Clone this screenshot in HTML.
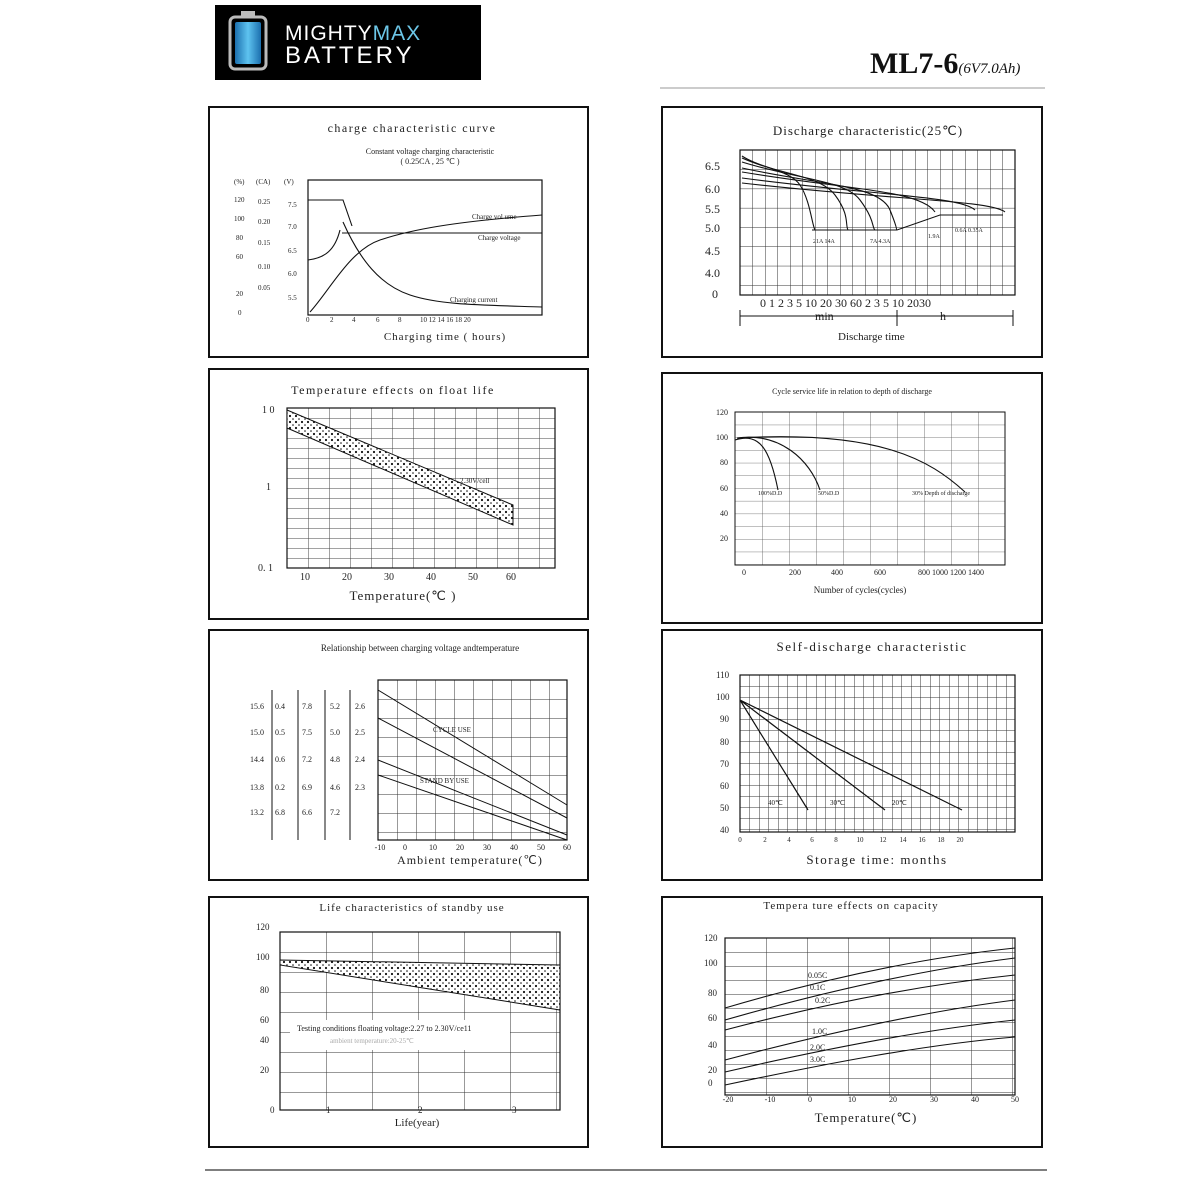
<!DOCTYPE html>
<html><head><meta charset="utf-8"><style>
html,body{margin:0;padding:0;background:#fff;}
svg{display:block;}
text{font-family:"Liberation Serif",serif;fill:#222;}
</style></head><body>
<svg width="1200" height="1200" viewBox="0 0 1200 1200" xmlns="http://www.w3.org/2000/svg">
<defs>
<pattern id="g2" x="740" y="150" width="12.5" height="19.3" patternUnits="userSpaceOnUse"><path d="M0 0V19.3M0 0H12.5" stroke="#333" stroke-width="1" fill="none"/></pattern>
<pattern id="g3" x="287" y="408" width="21" height="10" patternUnits="userSpaceOnUse"><path d="M0 0V10M0 0H21" stroke="#444" stroke-width="1" fill="none"/></pattern>
<pattern id="g4" x="735" y="412" width="27" height="12.7" patternUnits="userSpaceOnUse"><path d="M0 0V12.7M0 0H27" stroke="#555" stroke-width="0.8" fill="none"/></pattern>
<pattern id="g5" x="378" y="680" width="19" height="19" patternUnits="userSpaceOnUse"><path d="M0 0V19M0 0H19" stroke="#333" stroke-width="1" fill="none"/></pattern>
<pattern id="g6" x="740" y="675" width="9.5" height="11" patternUnits="userSpaceOnUse"><path d="M0 0V11M0 0H9.5" stroke="#333" stroke-width="1" fill="none"/></pattern>
<pattern id="g7" x="280" y="932" width="46" height="20" patternUnits="userSpaceOnUse"><path d="M0 0V20M0 0H46" stroke="#333" stroke-width="1" fill="none"/></pattern>
<pattern id="g8" x="725" y="938" width="41" height="14" patternUnits="userSpaceOnUse"><path d="M0 0V14M0 0H41" stroke="#333" stroke-width="1" fill="none"/></pattern>
<pattern id="dots" width="6" height="6" patternUnits="userSpaceOnUse"><rect width="6" height="6" fill="#fff"/><circle cx="2" cy="2" r="1.1" fill="#111"/><circle cx="5" cy="5" r="0.8" fill="#111"/></pattern>
<linearGradient id="bat" x1="0" x2="1"><stop offset="0" stop-color="#1b6fae"/><stop offset="0.5" stop-color="#5ec3f0"/><stop offset="1" stop-color="#1b6fae"/></linearGradient>
</defs>

<rect x="215" y="5" width="266" height="75" fill="#000"/>
<rect x="230" y="17" width="36" height="52" rx="5" fill="none" stroke="#bbb" stroke-width="3"/>
<rect x="241" y="11" width="14" height="6" fill="#bbb"/>
<rect x="235" y="22" width="26" height="42" rx="2" fill="url(#bat)"/>
<text x="285" y="40" style="fill:#fff;font-family:'Liberation Sans',sans-serif;font-size:21px;letter-spacing:1px">MIGHTY<tspan style="fill:#6cc7e8">MAX</tspan></text>
<text x="285" y="63" style="fill:#fff;font-family:'Liberation Sans',sans-serif;font-size:24px;letter-spacing:3px">BATTERY</text>
<text x="870" y="73" style="font-size:30px;font-weight:bold;fill:#111">ML7-6<tspan style="font-size:15px;font-style:italic;font-weight:normal">(6V7.0Ah)</tspan></text>
<line x1="660" y1="88" x2="1045" y2="88" stroke="#bbb" stroke-width="1.5"/>
<line x1="205" y1="1170" x2="1047" y2="1170" stroke="#555" stroke-width="1.5"/>

<g fill="none" stroke="#111" stroke-width="2">
<rect x="209" y="107" width="379" height="250"/>
<rect x="662" y="107" width="380" height="250"/>
<rect x="209" y="369" width="379" height="250"/>
<rect x="662" y="373" width="380" height="250"/>
<rect x="209" y="630" width="379" height="250"/>
<rect x="662" y="630" width="380" height="250"/>
<rect x="209" y="897" width="379" height="250"/>
<rect x="662" y="897" width="380" height="250"/>
</g>

<text x="412" y="132" text-anchor="middle" style="font-size:12px;letter-spacing:1.5px">charge characteristic curve</text>
<text x="430" y="154" text-anchor="middle" style="font-size:8px">Constant voltage charging characteristic</text>
<text x="430" y="164" text-anchor="middle" style="font-size:8px">( 0.25CA , 25 ℃ )</text>
<rect x="308" y="180" width="234" height="135" fill="none" stroke="#111" stroke-width="1.2"/>
<g style="font-size:7px">
<text x="234" y="184">(%)</text><text x="256" y="184">(CA)</text><text x="284" y="184">(V)</text>
<text x="234" y="202">120</text><text x="234" y="221">100</text><text x="236" y="240">80</text><text x="236" y="259">60</text><text x="236" y="296">20</text><text x="238" y="315">0</text>
<text x="258" y="204">0.25</text><text x="258" y="224">0.20</text><text x="258" y="245">0.15</text><text x="258" y="269">0.10</text><text x="258" y="290">0.05</text>
<text x="288" y="207">7.5</text><text x="288" y="229">7.0</text><text x="288" y="253">6.5</text><text x="288" y="276">6.0</text><text x="288" y="300">5.5</text>
<text x="306" y="322">0</text><text x="330" y="322">2</text><text x="352" y="322">4</text><text x="376" y="322">6</text><text x="398" y="322">8</text><text x="420" y="322">10 12 14 16 18 20</text>
<text x="472" y="219">Charge vol ume</text><text x="478" y="240">Charge voltage</text><text x="450" y="302">Charging current</text>
</g>
<g fill="none" stroke="#111" stroke-width="1.1">
<path d="M308 200H343L352 226"/>
<path d="M308 260C325 258 335 250 340 230"/>
<path d="M342 233H542"/>
<path d="M310 312C330 290 350 250 380 240S450 222 542 215"/>
<path d="M343 222C360 260 380 285 410 295S480 305 542 307"/>
</g>
<text x="445" y="340" text-anchor="middle" style="font-size:11px;letter-spacing:1px">Charging time ( hours)</text>

<text x="868" y="135" text-anchor="middle" style="font-size:13px;letter-spacing:1px">Discharge characteristic(25℃)</text>
<rect x="740" y="150" width="275" height="145" fill="url(#g2)" stroke="#111" stroke-width="1.2"/>
<g style="font-size:12px">
<text x="705" y="170">6.5</text><text x="705" y="193">6.0</text><text x="705" y="213">5.5</text><text x="705" y="232">5.0</text><text x="705" y="255">4.5</text><text x="705" y="277">4.0</text><text x="712" y="298">0</text>
<text x="760" y="307">0 1 2 3 5 10 20 30 60 2 3 5 10 2030</text>
<text x="815" y="320">min</text><text x="940" y="320">h</text>
<text x="838" y="340" style="font-size:11px">Discharge time</text>
</g>
<g style="font-size:6px"><text x="813" y="243">21A 14A</text><text x="870" y="243">7A 4.3A</text><text x="928" y="238">1.9A</text><text x="955" y="232">0.6A 0.35A</text></g>
<path d="M740 316H1013M740 310V326M897 310V326M1013 310V326" stroke="#111" fill="none"/>
<g fill="none" stroke="#111" stroke-width="1.1">
<path d="M742 156C760 168 790 170 800 185S812 225 815 230"/>
<path d="M742 158C780 175 820 175 835 195S845 225 848 230"/>
<path d="M742 162C800 180 845 180 860 200S872 228 875 230"/>
<path d="M742 168C820 185 880 185 890 210S895 228 897 230"/>
<path d="M742 172C850 190 920 190 935 212"/>
<path d="M742 178C870 195 960 196 975 210"/>
<path d="M742 183C890 200 990 200 1005 212"/>
<path d="M812 230H897L940 215H1003"/>
</g>

<text x="393" y="394" text-anchor="middle" style="font-size:12px;letter-spacing:1.5px">Temperature effects on float life</text>
<rect x="287" y="408" width="268" height="160" fill="url(#g3)" stroke="#111" stroke-width="1.2"/>
<path d="M287 410L513 505L513 525L287 428Z" fill="url(#dots)" stroke="#111"/>
<g style="font-size:10px"><text x="262" y="413">1 0</text><text x="266" y="490">1</text><text x="258" y="571">0. 1</text>
<text x="300" y="580">10</text><text x="342" y="580">20</text><text x="384" y="580">30</text><text x="426" y="580">40</text><text x="468" y="580">50</text><text x="506" y="580">60</text></g>
<text x="460" y="483" style="font-size:7px">2.30V/cell</text>
<text x="403" y="600" text-anchor="middle" style="font-size:13px;letter-spacing:1px">Temperature(℃ )</text>

<text x="852" y="394" text-anchor="middle" style="font-size:8px">Cycle service life in relation to depth of discharge</text>
<rect x="735" y="412" width="270" height="153" fill="url(#g4)" stroke="#111"/>
<g style="font-size:8px"><text x="716" y="415">120</text><text x="716" y="440">100</text><text x="720" y="465">80</text><text x="720" y="491">60</text><text x="720" y="516">40</text><text x="720" y="541">20</text>
<text x="742" y="575">0</text><text x="789" y="575">200</text><text x="831" y="575">400</text><text x="874" y="575">600</text><text x="918" y="575">800 1000 1200 1400</text></g>
<g style="font-size:6px"><text x="758" y="495">100%D.D</text><text x="818" y="495">50%D.D</text><text x="912" y="495">30% Depth of discharge</text></g>
<text x="860" y="593" text-anchor="middle" style="font-size:9px">Number of cycles(cycles)</text>
<g fill="none" stroke="#111" stroke-width="1.1">
<path d="M735 440C760 432 770 450 778 490"/><path d="M737 438C780 432 810 460 820 490"/><path d="M737 438C880 430 930 460 965 492"/>
</g>

<text x="420" y="651" text-anchor="middle" style="font-size:9px">Relationship between charging voltage andtemperature</text>
<rect x="378" y="680" width="189" height="160" fill="url(#g5)" stroke="#111" stroke-width="1.2"/>
<g style="font-size:8px">
<text x="250" y="709">15.6</text><text x="250" y="735">15.0</text><text x="250" y="762">14.4</text><text x="250" y="790">13.8</text><text x="250" y="815">13.2</text>
<text x="275" y="709">0.4</text><text x="275" y="735">0.5</text><text x="275" y="762">0.6</text><text x="275" y="790">0.2</text><text x="275" y="815">6.8</text>
<text x="302" y="709">7.8</text><text x="302" y="735">7.5</text><text x="302" y="762">7.2</text><text x="302" y="790">6.9</text><text x="302" y="815">6.6</text>
<text x="330" y="709">5.2</text><text x="330" y="735">5.0</text><text x="330" y="762">4.8</text><text x="330" y="790">4.6</text><text x="330" y="815">7.2</text>
<text x="355" y="709">2.6</text><text x="355" y="735">2.5</text><text x="355" y="762">2.4</text><text x="355" y="790">2.3</text>
<g text-anchor="middle"><text x="380" y="850">-10</text><text x="405" y="850">0</text><text x="433" y="850">10</text><text x="460" y="850">20</text><text x="487" y="850">30</text><text x="514" y="850">40</text><text x="541" y="850">50</text><text x="567" y="850">60</text></g></g>
<g stroke="#111" fill="none"><path d="M272 690V840M298 690V840M325 690V840M350 690V840"/>
<path d="M378 690L567 805M378 718L567 818M378 760L567 835M378 775L567 840"/></g>
<text x="433" y="732" style="font-size:7px">CYCLE USE</text><text x="420" y="783" style="font-size:7px">STAND BY USE</text>
<text x="470" y="864" text-anchor="middle" style="font-size:12px;letter-spacing:1px">Ambient temperature(℃)</text>

<text x="872" y="651" text-anchor="middle" style="font-size:13px;letter-spacing:1.5px">Self-discharge characteristic</text>
<rect x="740" y="675" width="275" height="157" fill="url(#g6)" stroke="#111" stroke-width="1.2"/>
<g style="font-size:9px"><text x="716" y="678">110</text><text x="716" y="700">100</text><text x="720" y="722">90</text><text x="720" y="745">80</text><text x="720" y="767">70</text><text x="720" y="789">60</text><text x="720" y="811">50</text><text x="720" y="833">40</text></g>
<g style="font-size:7px" text-anchor="middle"><text x="740" y="842">0</text><text x="765" y="842">2</text><text x="789" y="842">4</text><text x="812" y="842">6</text><text x="836" y="842">8</text><text x="860" y="842">10</text><text x="883" y="842">12</text><text x="903" y="842">14</text><text x="922" y="842">16</text><text x="941" y="842">18</text><text x="960" y="842">20</text></g>
<g stroke="#111" fill="none" stroke-width="1.2"><path d="M740 700L808 810M740 700L885 810M740 700L962 810"/></g>
<g style="font-size:7px"><text x="768" y="805">40℃</text><text x="830" y="805">30℃</text><text x="892" y="805">20℃</text></g>
<text x="877" y="864" text-anchor="middle" style="font-size:13px;letter-spacing:1.5px">Storage time: months</text>

<text x="412" y="911" text-anchor="middle" style="font-size:11px;letter-spacing:1px">Life characteristics of standby use</text>
<rect x="280" y="932" width="280" height="178" fill="url(#g7)" stroke="#111" stroke-width="1.2"/>
<path d="M280 960L560 965L560 1010L280 965Z" fill="url(#dots)" stroke="#111"/>
<rect x="290" y="1020" width="220" height="30" fill="#fff"/>
<text x="297" y="1031" style="font-size:8px">Testing conditions floating voltage:2.27 to 2.30V/ce11</text>
<text x="330" y="1043" style="font-size:7px;fill:#aaa">ambient temperature:20-25℃</text>
<g style="font-size:9px"><text x="256" y="930">120</text><text x="256" y="960">100</text><text x="260" y="993">80</text><text x="260" y="1023">60</text><text x="260" y="1043">40</text><text x="260" y="1073">20</text><text x="270" y="1113">0</text>
<text x="326" y="1113">1</text><text x="418" y="1113">2</text><text x="512" y="1113">3</text></g>
<text x="417" y="1126" text-anchor="middle" style="font-size:11px">Life(year)</text>

<text x="851" y="909" text-anchor="middle" style="font-size:11px;letter-spacing:1px">Tempera ture effects on capacity</text>
<rect x="725" y="938" width="290" height="157" fill="url(#g8)" stroke="#111" stroke-width="1.2"/>
<g style="font-size:9px"><text x="704" y="941">120</text><text x="704" y="966">100</text><text x="708" y="996">80</text><text x="708" y="1021">60</text><text x="708" y="1048">40</text><text x="708" y="1073">20</text><text x="708" y="1086">0</text></g>
<g style="font-size:8px" text-anchor="middle"><text x="728" y="1102">-20</text><text x="770" y="1102">-10</text><text x="810" y="1102">0</text><text x="852" y="1102">10</text><text x="893" y="1102">20</text><text x="934" y="1102">30</text><text x="975" y="1102">40</text><text x="1015" y="1102">50</text></g>
<g stroke="#111" fill="none" stroke-width="1.1">
<path d="M725 1008C820 980 920 958 1015 948"/><path d="M725 1020C820 993 920 970 1015 958"/>
<path d="M725 1030C820 1005 920 985 1015 975"/><path d="M725 1060C820 1035 920 1012 1015 1000"/>
<path d="M725 1072C820 1050 920 1030 1015 1020"/><path d="M725 1085C820 1065 920 1045 1015 1037"/></g>
<g style="font-size:8px"><text x="808" y="978">0.05C</text><text x="810" y="990">0.1C</text><text x="815" y="1003">0.2C</text><text x="812" y="1034">1.0C</text><text x="810" y="1050">2.0C</text><text x="810" y="1062">3.0C</text></g>
<text x="866" y="1122" text-anchor="middle" style="font-size:13px;letter-spacing:1px">Temperature(℃)</text>
</svg>
</body></html>
